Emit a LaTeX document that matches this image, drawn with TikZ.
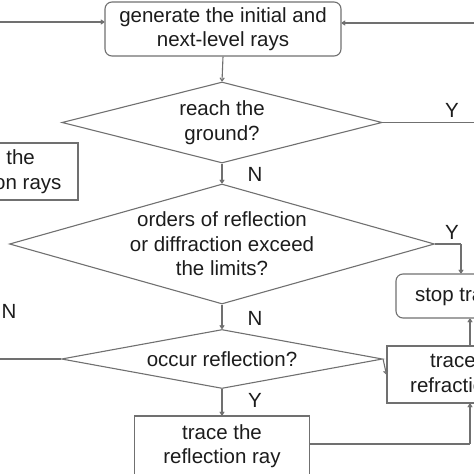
\documentclass[tikz,border=0pt]{standalone}
\usepackage{fontspec}
\setmainfont{Liberation Sans}
\usetikzlibrary{shapes.geometric,arrows.meta}
\definecolor{linegray}{RGB}{112,112,112}
\definecolor{textdark}{RGB}{28,28,28}
\tikzset{
  every node/.style={text=textdark,font=\fontsize{20.5}{24.5}\selectfont,align=center,inner sep=0pt},
  procbox/.style={draw=linegray,line width=1.1pt,rectangle},
  roundbox/.style={procbox,rounded corners=7pt},
  decide/.style={draw=linegray,line width=1.1pt,diamond},
  flow/.style={draw=linegray,line width=1.1pt,-{To[length=4pt,width=5pt]}},
  plainflow/.style={draw=linegray,line width=1.1pt},
  yn/.style={font=\fontsize{20.5}{24.5}\selectfont}
}
\begin{document}
\begin{tikzpicture}[x=1pt,y=-1pt]
        \useasboundingbox (0,0) rectangle (474,474);
        \clip (0,0) rectangle (474,474);
        \node[roundbox,minimum width=236pt,minimum height=54pt] (gen) at (223,29) {generate the initial and\\next-level rays};
        \node[decide,aspect=3,minimum width=320pt,minimum height=81pt] (ground) at (222,122.5) {reach the\\ground?};
        \node[procbox,minimum width=166pt,minimum height=57pt] (diffr) at (-5,171.5) {trace the\\diffraction rays};
        \node[decide,aspect=3.5,minimum width=425pt,minimum height=120pt] (limits) at (222,244) {orders of reflection\\or diffraction exceed\\the limits?};
        \node[roundbox,minimum width=144pt,minimum height=44pt] (stop) at (468,296) {stop tracing};
        \node[decide,aspect=5,minimum width=321pt,minimum height=59pt] (occur) at (222,359) {occur reflection?};
        \node[procbox,minimum width=166pt,minimum height=57pt] (refr) at (470,374.5) {trace the\\refraction ray};
        \node[procbox,minimum width=175pt,minimum height=60pt] (refl) at (222,446) {trace the\\reflection ray};
        % free ends at the border
        \coordinate (inL) at (0,22);
        \coordinate (inR) at (474,23);
        \coordinate (outY) at (474,122.5);
        \coordinate (limY) at (461,244);
        \coordinate (outN) at (0,359);
        \coordinate (turn) at (470,444);
        \draw[flow] (inL) -- (inL -| gen.west);
        \draw[flow] (inR) -- (inR -| gen.east);
        \draw[flow] (gen.south) -- (ground.north);
        \draw[plainflow] (ground.east) -- (outY);
        \draw[flow] (ground.south) -- (limits.north);
        \draw[plainflow] (limits.east) -- (limY);
        \draw[flow] (limY) -- (limY |- stop.north);
        \draw[flow] (limits.south) -- (occur.north);
        \draw[plainflow] (occur.west) -- (outN);
        \draw[flow] (occur.east) -- (refr.west);
        \draw[flow] (occur.south) -- (refl.north);
        \draw[plainflow] (refl.east |- turn) -- (turn);
        \draw[flow] (turn) -- (turn |- refr.south);
        \draw[flow] (turn |- refr.north) -- (turn |- stop.south);
        % branch labels
        \node[yn] (y1) at (452,110) {Y};
        \node[yn] (n1) at (255,174) {N};
        \node[yn] (y2) at (452,232) {Y};
        \node[yn] (n2) at (255,318) {N};
        \node[yn] (n3) at (9,311) {N};
        \node[yn] (y3) at (255,400) {Y};
      \end{tikzpicture}
\end{document}
